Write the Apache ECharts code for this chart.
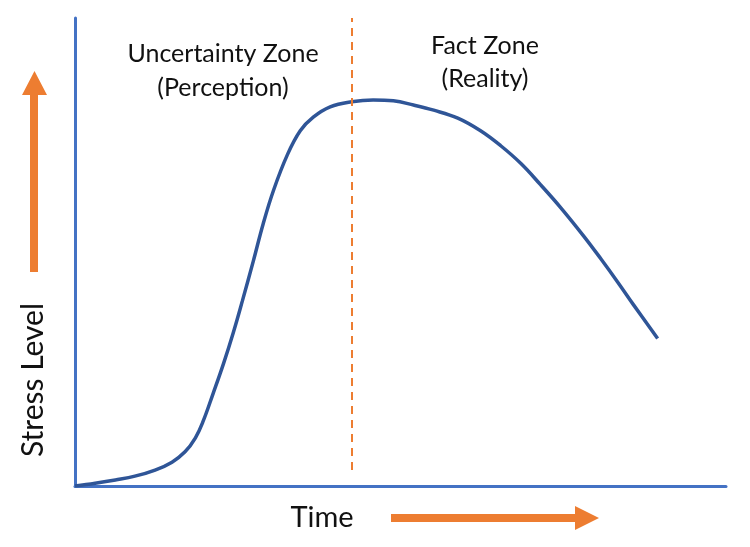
<!DOCTYPE html>
<html>
<head>
<meta charset="utf-8">
<script src="https://cdn.jsdelivr.net/npm/echarts@6/dist/echarts.min.js"></script>
<style>
  html, body { margin: 0; padding: 0; background: #fff; }
  #chart { width: 750px; height: 547px; }
</style>
</head>
<body>
<div id="chart"></div>
<script>
// time (0-100) and stress level (0-100)
const timeValues = [0, 3.1, 6.2, 9.2, 12.3, 14.9, 16.9, 18.5, 19.7, 21.2, 22.8, 24.3, 25.7, 27.4, 28.9, 30.5, 32.6, 34.6, 36.6, 39.2, 42.5, 45.8, 48.9, 52.0, 55.1, 58.8, 62.3, 65.4, 68.5, 71.5, 74.6, 78.2, 80.8, 83.4, 85.8, 89.5];
const stressValues = [0, 0.6, 1.3, 2.1, 3.4, 5.1, 7.3, 10.3, 13.9, 19.7, 26.1, 32.7, 39.5, 48.1, 56.0, 63.2, 70.7, 75.9, 78.8, 81.0, 82.1, 82.5, 82.3, 81.4, 80.3, 78.6, 75.9, 72.7, 68.9, 64.4, 59.5, 53.3, 48.5, 43.5, 38.7, 31.5];
const zoneSplit = 42.5;
const zoneLabels = ['Uncertainty Zone\n(Perception)', 'Fact Zone\n(Reality)'];

const axisBlue = '#4472C4';
const curveBlue = '#2F5597';
const orange = '#ED7D31';
const font = 'Lato';

const chart = echarts.init(document.getElementById('chart'));

chart.setOption({
    animation: false,
    grid: { left: 75, right: 24, top: 18, bottom: 61 },
    xAxis: {
        type: 'value', min: 0, max: 100,
        axisLine: { show: true, lineStyle: { color: axisBlue, width: 3 } },
        axisTick: { show: false },
        axisLabel: { show: false },
        splitLine: { show: false }
    },
    yAxis: {
        type: 'value', min: 0, max: 100,
        axisLine: { show: true, lineStyle: { color: axisBlue, width: 3 } },
        axisTick: { show: false },
        axisLabel: { show: false },
        splitLine: { show: false }
    },
    series: [{
        type: 'line',
        data: timeValues.map((t, i) => [t, stressValues[i]]),
        smooth: 0.4,
        showSymbol: false,
        lineStyle: { color: curveBlue, width: 3.5 },
        markLine: {
            silent: true,
            symbol: 'none',
            label: { show: false },
            lineStyle: { color: orange, width: 2, type: [8, 6] },
            data: [[{ coord: [zoneSplit, 3.4] }, { coord: [zoneSplit, 100] }]]
        }
    }],
    graphic: [
        // up arrow
        {
            type: 'polygon',
            shape: { points: [[30, 272], [38, 272], [38, 95], [47, 95], [34.5, 71], [22, 95], [30, 95]] },
            style: { fill: orange }
        },
        // right arrow
        {
            type: 'polygon',
            shape: { points: [[391, 514], [575, 514], [575, 506], [599, 518], [575, 530], [575, 522], [391, 522]] },
            style: { fill: orange }
        },
        {
            type: 'text', x: 223, y: 71,
            style: { text: zoneLabels[0], fill: '#111', font: '25px ' + font, textAlign: 'center', textVerticalAlign: 'middle', lineHeight: 34 }
        },
        {
            type: 'text', x: 485, y: 62,
            style: { text: zoneLabels[1], fill: '#111', font: '25px ' + font, textAlign: 'center', textVerticalAlign: 'middle', lineHeight: 33 }
        },
        {
            type: 'text', x: 322, y: 518,
            style: { text: 'Time', fill: '#111', font: '29px ' + font, textAlign: 'center', textVerticalAlign: 'middle' }
        },
        {
            type: 'text', x: 33, y: 380, rotation: Math.PI / 2,
            style: { text: 'Stress Level', fill: '#111', font: '30px ' + font, textAlign: 'center', textVerticalAlign: 'middle' }
        }
    ]
});
</script>
</body>
</html>
